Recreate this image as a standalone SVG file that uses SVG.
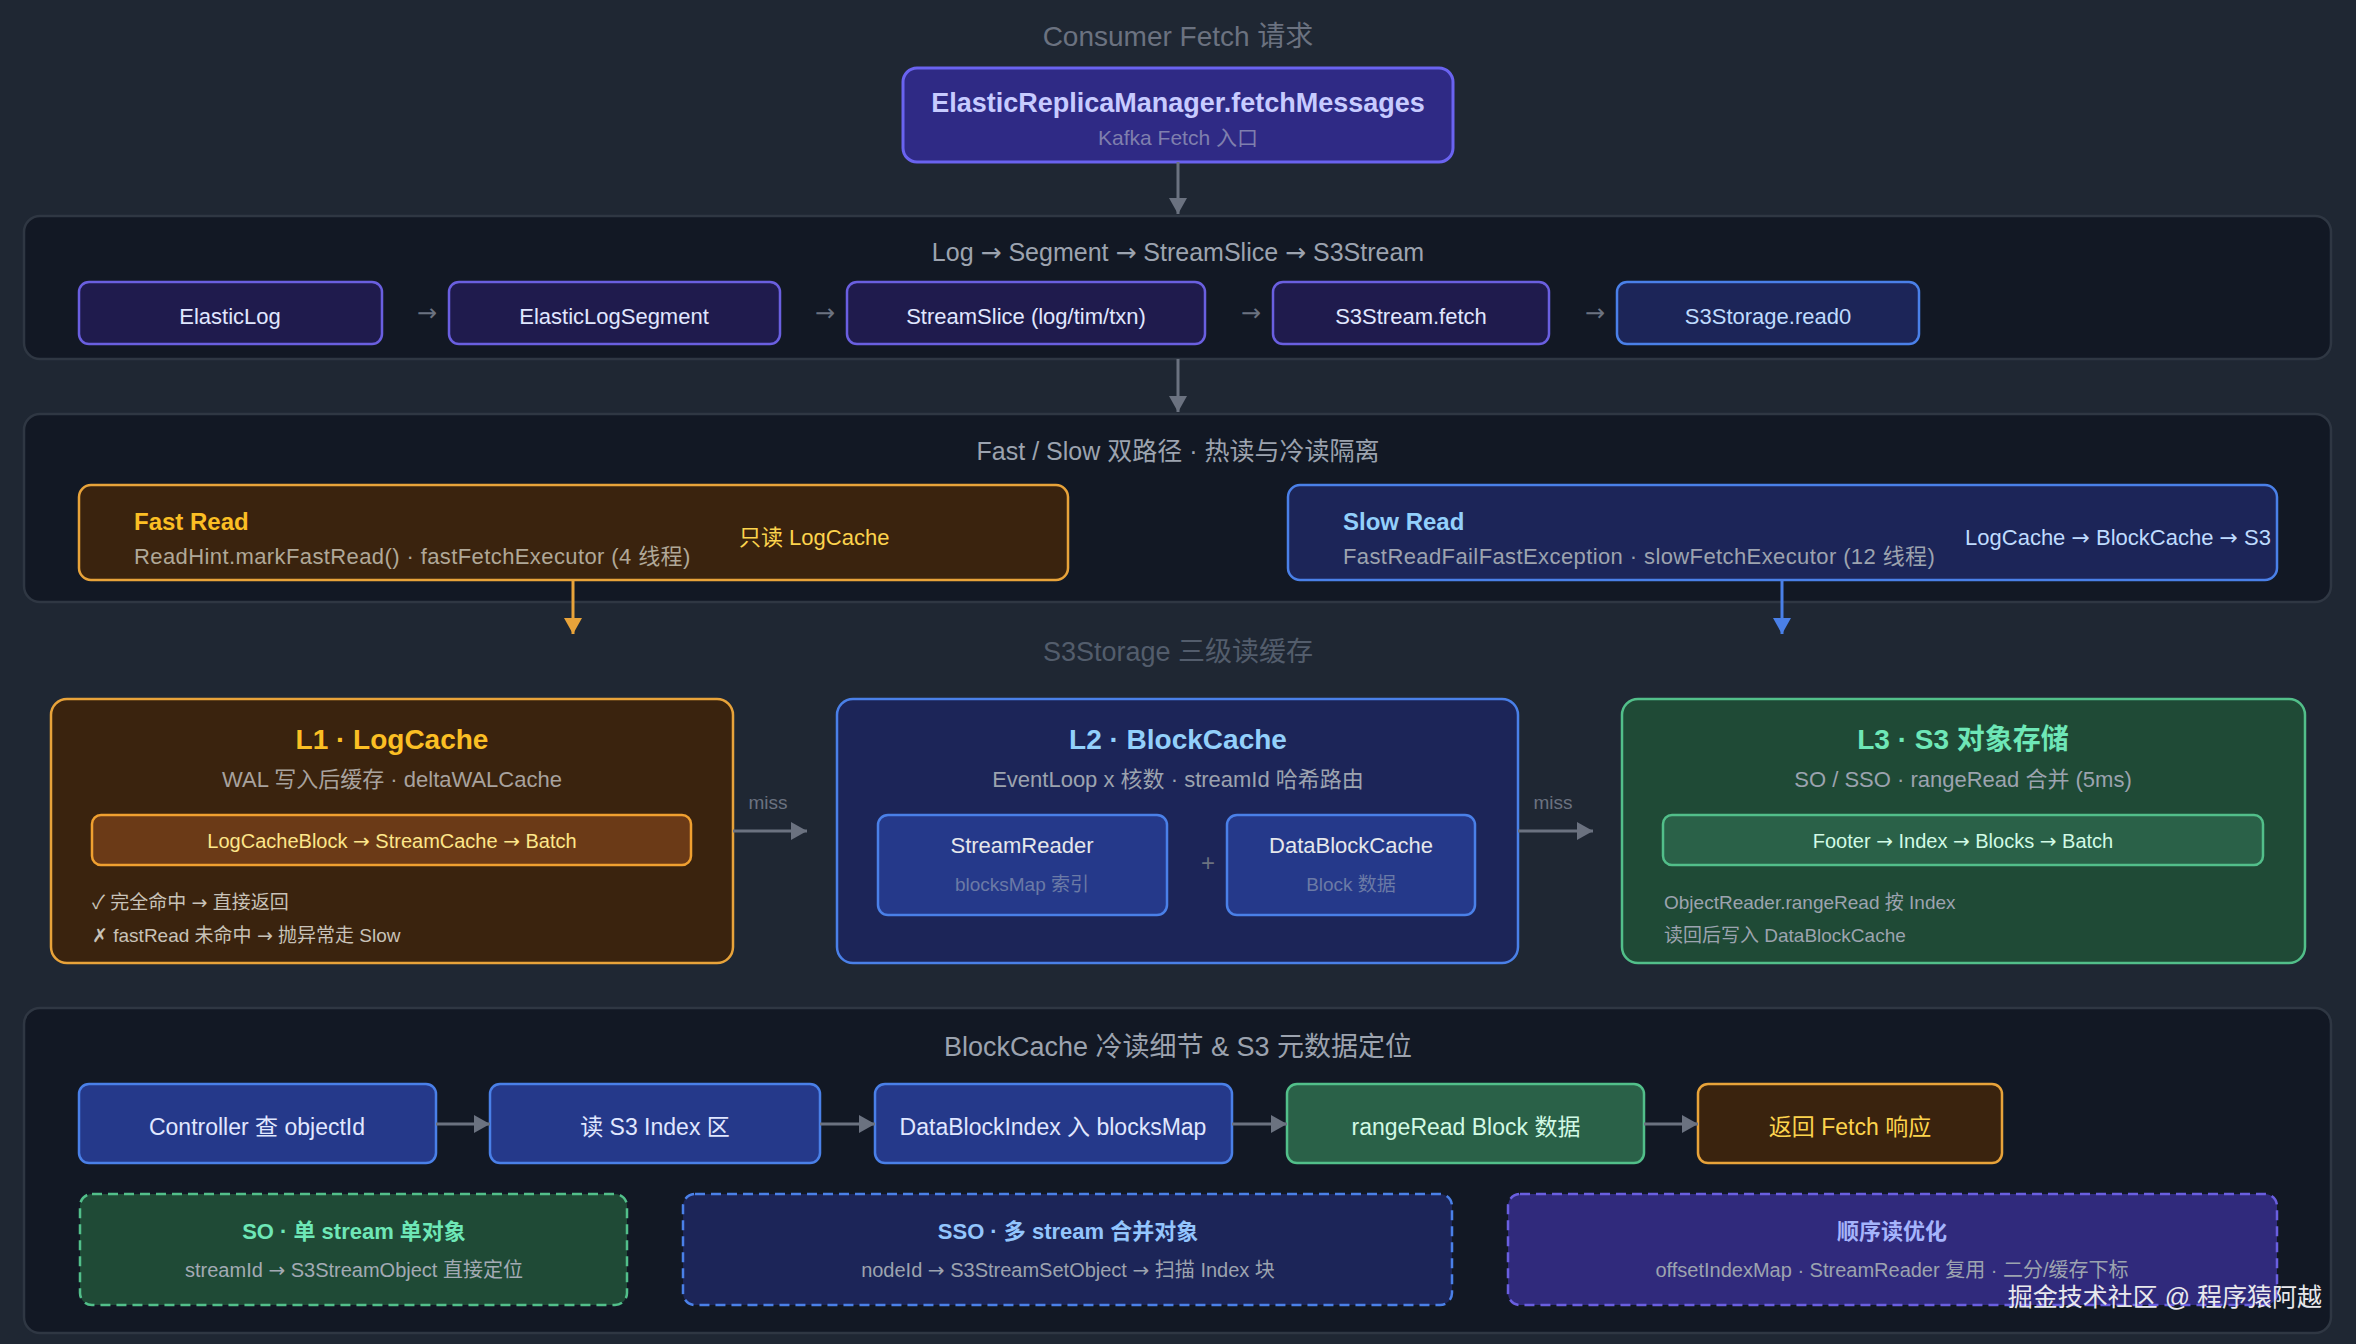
<svg xmlns="http://www.w3.org/2000/svg" width="2356" height="1344" viewBox="0 0 2356 1344">
<style>
text{font-family:"Liberation Sans","Noto Sans CJK SC",sans-serif}
.a{font-family:"DejaVu Sans","Noto Sans CJK SC",sans-serif}
.c{text-anchor:middle}
.b{font-weight:bold}
.sec{fill:#121824;stroke:#2f3743;stroke-width:2.5}
.ttl{fill:#9ca3af;font-size:25px}
.pur{fill:#1f1b4d;stroke:#6a5fe0;stroke-width:2.5}
.blu{fill:#1c2558;stroke:#4a80e8;stroke-width:2.5}
.blu2{fill:#25398a;stroke:#4a80e8;stroke-width:2.5}
.amb{fill:#3a230e;stroke:#e8a33a;stroke-width:2.5}
.grn{fill:#1f4a36;stroke:#52bf8a;stroke-width:2.5}
.grn2{fill:#2a6148;stroke:#52bf8a;stroke-width:2.5}
.dash{stroke-dasharray:10 6}
.ind{fill:#302a7c;stroke:#6a5fe0;stroke-width:2.5}
.ntx{font-size:23px;fill:#e0e7ff}
.gry{fill:#9ca3af}
.sub{font-size:22px;letter-spacing:0.4px}
.sm{font-size:19px}
.dt{font-size:22px;font-weight:bold}
.ds{font-size:20px}
.arr{font-size:24px;fill:#6b7280;font-family:"DejaVu Sans",sans-serif}
.cg{stroke:#6b7280;stroke-width:3;fill:none}
</style>
<defs>
<marker id="hg" markerUnits="userSpaceOnUse" markerWidth="20" markerHeight="20" refX="16" refY="9" orient="auto"><path d="M0,0 L16,9 L0,18 Z" fill="#6b7280"/></marker>
<marker id="ha" markerUnits="userSpaceOnUse" markerWidth="20" markerHeight="20" refX="16" refY="9" orient="auto"><path d="M0,0 L16,9 L0,18 Z" fill="#e8a33a"/></marker>
<marker id="hb" markerUnits="userSpaceOnUse" markerWidth="20" markerHeight="20" refX="16" refY="9" orient="auto"><path d="M0,0 L16,9 L0,18 Z" fill="#4a80e8"/></marker>
</defs>
<rect width="2356" height="1344" fill="#1f2733"/>

<text x="1178" y="46" class="c" style="font-size:28px;fill:#6b7280">Consumer Fetch 请求</text>

<g id="entry">
<rect x="903" y="68" width="550" height="94" rx="14" fill="#2f2a85" stroke="#6a63f0" stroke-width="3"/>
<text x="1178" y="112" class="c b" style="font-size:27px;fill:#c7cbff">ElasticReplicaManager.fetchMessages</text>
<text x="1178" y="145" class="c" style="font-size:21px;fill:#7f7fae">Kafka Fetch 入口</text>
</g>

<g id="sec-chain">
<rect class="sec" x="24" y="216" width="2307" height="143" rx="16"/>
<text x="1178" y="261" class="c ttl">Log <tspan class="a">→</tspan> Segment <tspan class="a">→</tspan> StreamSlice <tspan class="a">→</tspan> S3Stream</text>
</g>
<g id="n-elasticlog"><rect class="pur" x="79" y="282" width="303" height="62" rx="10"/><text x="230" y="324" class="c ntx" style="font-size:22px">ElasticLog</text></g>
<g id="n-segment"><rect class="pur" x="449" y="282" width="331" height="62" rx="10"/><text x="614" y="324" class="c ntx" style="font-size:22px">ElasticLogSegment</text></g>
<g id="n-slice"><rect class="pur" x="847" y="282" width="358" height="62" rx="10"/><text x="1026" y="324" class="c ntx" style="font-size:22px">StreamSlice (log/tim/txn)</text></g>
<g id="n-s3stream"><rect class="pur" x="1273" y="282" width="276" height="62" rx="10"/><text x="1411" y="324" class="c ntx" style="font-size:22px">S3Stream.fetch</text></g>
<g id="n-read0"><rect class="blu" x="1617" y="282" width="302" height="62" rx="10"/><text x="1768" y="324" class="c ntx" style="font-size:22px;fill:#bfdbfe">S3Storage.read0</text></g>

<g id="sec-path">
<rect class="sec" x="24" y="414" width="2307" height="188" rx="16"/>
<text x="1178" y="460" class="c ttl">Fast / Slow 双路径 · 热读与冷读隔离</text>
</g>
<g id="n-fast">
<rect class="amb" x="79" y="485" width="989" height="95" rx="12"/>
<text x="134" y="530" class="b" style="font-size:24px;fill:#fbbf24">Fast Read</text>
<text x="134" y="564" class="sub" style="fill:#b0a898">ReadHint.markFastRead() · fastFetchExecutor (4 线程)</text>
<text x="739" y="545" style="font-size:22px;fill:#fcd34d">只读 LogCache</text>
</g>
<g id="n-slow">
<rect class="blu" x="1288" y="485" width="989" height="95" rx="12"/>
<text x="1343" y="530" class="b" style="font-size:24px;fill:#93d0fb">Slow Read</text>
<text x="1343" y="564" class="sub gry">FastReadFailFastException · slowFetchExecutor (12 线程)</text>
<text x="2271" y="545" style="font-size:22px;fill:#bfdbfe;text-anchor:end">LogCache <tspan class="a">→</tspan> BlockCache <tspan class="a">→</tspan> S3</text>
</g>

<text x="1178" y="661" class="c" style="font-size:27px;fill:#535d6c">S3Storage 三级读缓存</text>

<g id="n-l1">
<rect class="amb" x="51" y="699" width="682" height="264" rx="16"/>
<text x="392" y="749" class="c b" style="font-size:28px;fill:#fbbf24">L1 · LogCache</text>
<text x="392" y="787" class="c" style="font-size:22px;fill:#a8a29e">WAL 写入后缓存 · deltaWALCache</text>
<rect x="92" y="815" width="599" height="50" rx="9" fill="#6b3a17" stroke="#f0a030" stroke-width="2.5"/>
<text x="392" y="848" class="c" style="font-size:20px;fill:#fde68a">LogCacheBlock <tspan class="a">→</tspan> StreamCache <tspan class="a">→</tspan> Batch</text>
<text x="92" y="909" class="sm" style="fill:#c8c2b8">✓ 完全命中 <tspan class="a">→</tspan> 直接返回</text>
<text x="92" y="942" class="sm" style="fill:#c8c2b8">✗ fastRead 未命中 <tspan class="a">→</tspan> 抛异常走 Slow</text>
</g>

<g id="n-l2">
<rect class="blu" x="837" y="699" width="681" height="264" rx="16"/>
<text x="1178" y="749" class="c b" style="font-size:28px;fill:#93d0fb">L2 · BlockCache</text>
<text x="1178" y="787" class="c gry" style="font-size:22px">EventLoop x 核数 · streamId 哈希路由</text>
<rect class="blu2" x="878" y="815" width="289" height="100" rx="10"/>
<text x="1022" y="853" class="c" style="font-size:22px;fill:#e5e7eb">StreamReader</text>
<text x="1022" y="891" class="c sm" style="fill:#6b7aa6">blocksMap 索引</text>
<text x="1208" y="871" class="c" style="font-size:24px;fill:#6b7280">+</text>
<rect class="blu2" x="1227" y="815" width="248" height="100" rx="10"/>
<text x="1351" y="853" class="c" style="font-size:22px;fill:#e5e7eb">DataBlockCache</text>
<text x="1351" y="891" class="c sm" style="fill:#6b7aa6">Block 数据</text>
</g>

<g id="n-l3">
<rect class="grn" x="1622" y="699" width="683" height="264" rx="16"/>
<text x="1963" y="749" class="c b" style="font-size:28px;fill:#6ee7b7">L3 · S3 对象存储</text>
<text x="1963" y="787" class="c gry" style="font-size:22px">SO / SSO · rangeRead 合并 (5ms)</text>
<rect class="grn2" x="1663" y="815" width="600" height="50" rx="9"/>
<text x="1963" y="848" class="c" style="font-size:20px;fill:#d1fae5">Footer <tspan class="a">→</tspan> Index <tspan class="a">→</tspan> Blocks <tspan class="a">→</tspan> Batch</text>
<text x="1664" y="909" class="sm gry">ObjectReader.rangeRead 按 Index</text>
<text x="1664" y="942" class="sm gry">读回后写入 DataBlockCache</text>
</g>

<g id="sec-detail">
<rect class="sec" x="24" y="1008" width="2307" height="325" rx="16"/>
<text x="1178" y="1056" class="c ttl" style="font-size:27px">BlockCache 冷读细节 &amp; S3 元数据定位</text>
</g>
<g id="d-controller"><rect class="blu2" x="79" y="1084" width="357" height="79" rx="10"/><text x="257" y="1135" class="c ntx">Controller 查 objectId</text></g>
<g id="d-index"><rect class="blu2" x="490" y="1084" width="330" height="79" rx="10"/><text x="655" y="1135" class="c ntx">读 S3 Index 区</text></g>
<g id="d-blocksmap"><rect class="blu2" x="875" y="1084" width="357" height="79" rx="10"/><text x="1053" y="1135" class="c ntx">DataBlockIndex 入 blocksMap</text></g>
<g id="d-rangeread"><rect class="grn2" x="1287" y="1084" width="357" height="79" rx="10"/><text x="1466" y="1135" class="c ntx" style="fill:#d1fae5">rangeRead Block 数据</text></g>
<g id="d-return"><rect class="amb" x="1698" y="1084" width="304" height="79" rx="10"/><text x="1850" y="1135" class="c ntx" style="fill:#fcd34d">返回 Fetch 响应</text></g>

<g id="d-so"><rect class="grn dash" x="80" y="1194" width="547" height="111" rx="12"/>
<text x="354" y="1239" class="c dt" style="fill:#6ee7b7">SO · 单 stream 单对象</text>
<text x="354" y="1277" class="c ds" style="fill:#a3aab4">streamId <tspan class="a">→</tspan> S3StreamObject 直接定位</text></g>
<g id="d-sso"><rect class="blu dash" x="683" y="1194" width="769" height="111" rx="12"/>
<text x="1068" y="1239" class="c dt" style="fill:#93c5fd">SSO · 多 stream 合并对象</text>
<text x="1068" y="1277" class="c ds gry">nodeId <tspan class="a">→</tspan> S3StreamSetObject <tspan class="a">→</tspan> 扫描 Index 块</text></g>
<g id="d-seq"><rect class="ind dash" x="1508" y="1194" width="769" height="111" rx="12"/>
<text x="1892" y="1239" class="c dt" style="fill:#a5b4fc">顺序读优化</text>
<text x="1892" y="1277" class="c ds gry">offsetIndexMap · StreamReader 复用 · 二分/缓存下标</text></g>

<g id="connectors">
<line class="cg" x1="1178" y1="162" x2="1178" y2="214" marker-end="url(#hg)"/>
<line class="cg" x1="1178" y1="359" x2="1178" y2="412" marker-end="url(#hg)"/>
<text x="427" y="321" class="c arr">→</text>
<text x="825" y="321" class="c arr">→</text>
<text x="1251" y="321" class="c arr">→</text>
<text x="1595" y="321" class="c arr">→</text>
<line x1="573" y1="580" x2="573" y2="634" stroke="#e8a33a" stroke-width="3" marker-end="url(#ha)"/>
<line x1="1782" y1="580" x2="1782" y2="634" stroke="#4a80e8" stroke-width="3" marker-end="url(#hb)"/>
<text x="768" y="809" class="c sm" style="fill:#6b7280">miss</text>
<line class="cg" x1="733" y1="831" x2="807" y2="831" marker-end="url(#hg)"/>
<text x="1553" y="809" class="c sm" style="fill:#6b7280">miss</text>
<line class="cg" x1="1518" y1="831" x2="1593" y2="831" marker-end="url(#hg)"/>
<line class="cg" x1="436" y1="1124" x2="490" y2="1124" marker-end="url(#hg)"/>
<line class="cg" x1="820" y1="1124" x2="875" y2="1124" marker-end="url(#hg)"/>
<line class="cg" x1="1232" y1="1124" x2="1287" y2="1124" marker-end="url(#hg)"/>
<line class="cg" x1="1644" y1="1124" x2="1698" y2="1124" marker-end="url(#hg)"/>
</g>

<text x="2322" y="1306" style="font-size:25px;fill:#e8e8ec;text-anchor:end">掘金技术社区 @ 程序猿阿越</text>
</svg>
